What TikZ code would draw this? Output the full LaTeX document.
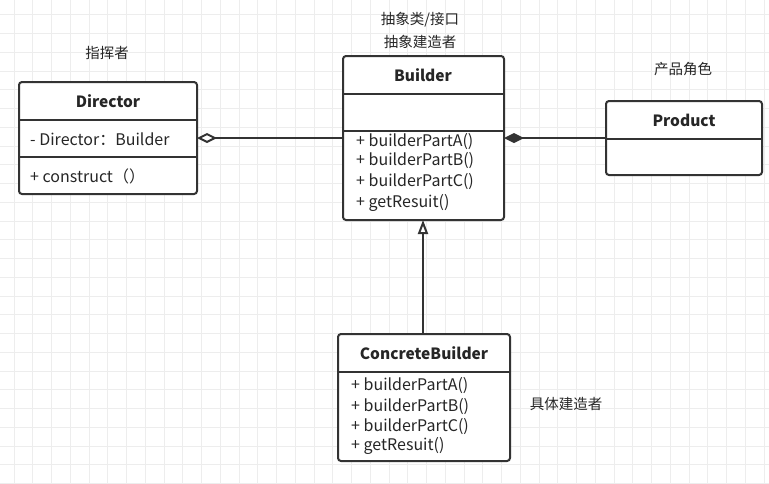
\documentclass[tikz,border=0pt]{standalone}
\usepackage{fontspec}
\setmainfont{Noto Sans CJK SC}
\usetikzlibrary{arrows.meta}
\begin{document}
\begin{tikzpicture}[x=1pt,y=-1pt,
  box/.style={draw=black!80,line width=2pt,rounded corners=3pt},
  sep/.style={draw=black!80,line width=1.5pt},
  ttl/.style={font=\fontsize{15.5}{18}\selectfont\bfseries,text=black!85},
  txt/.style={font=\fontsize{16}{18}\selectfont,text=black!85,anchor=west,inner sep=0pt},
  lbl/.style={font=\fontsize{14.5}{17}\selectfont,text=black!85},
  con/.style={draw=black!80,line width=2pt}]
\fill[white] (0,0) rectangle (769,483);
\useasboundingbox (0,0) rectangle (769,483);
\foreach \i in {0,...,41}{\draw[black!7,line width=0.6pt] (14+18.75*\i,0) -- (14+18.75*\i,483);}
\foreach \i in {0,...,26}{\draw[black!7,line width=0.6pt] (0,-4+18.75*\i) -- (769,-4+18.75*\i);}
% Director
\draw[box,fill=white] (19,82) rectangle (197,194);
\draw[sep] (19,120) -- (197,120); \draw[sep] (19,157) -- (197,157);
\node[ttl] at (108,101) {Director};
\node[txt] at (30,139) {- Director：Builder};
\node[txt] at (30,176) {+ construct（）};
\coordinate (dR) at (197,138);
% Builder
\draw[box,fill=white] (343,56) rectangle (504,220);
\draw[sep] (343,94) -- (504,94); \draw[sep] (343,131) -- (504,131);
\node[ttl] at (423,75) {Builder};
\node[txt] at (356,142) {+ builderPartA()};
\node[txt] at (356,161) {+ builderPartB()};
\node[txt] at (356,182) {+ builderPartC()};
\node[txt] at (356,203) {+ getResuit()};
\coordinate (bL) at (343,138); \coordinate (bR) at (504,138); \coordinate (bB) at (423,220);
% Product
\draw[box,fill=white] (606,101) rectangle (762,175);
\draw[sep] (606,139) -- (762,139);
\node[ttl] at (684,120) {Product};
\coordinate (pL) at (606,138);
% ConcreteBuilder
\draw[box,fill=white] (338,334) rectangle (510,461);
\draw[sep] (338,372) -- (510,372);
\node[ttl] at (424,353) {ConcreteBuilder};
\node[txt] at (351,386) {+ builderPartA()};
\node[txt] at (351,407) {+ builderPartB()};
\node[txt] at (351,427) {+ builderPartC()};
\node[txt] at (351,446) {+ getResuit()};
\coordinate (cT) at (423,334);
% connectors
\draw[con,{Diamond[open,length=20pt,width=10pt,fill=white]}-] (dR) -- (bL);
\draw[con,{Diamond[length=20pt,width=10pt]}-] (bR) -- (pL);
\draw[con,-{Triangle[open,length=14pt,width=10pt,fill=white]}] (cT) -- (bB);
% labels
\node[lbl] at (107,53) {指挥者};
\node[lbl] at (420,20) {抽象类/接口};
\node[lbl] at (420,42) {抽象建造者};
\node[lbl] at (683,69) {产品角色};
\node[lbl] at (566,404) {具体建造者};
\end{tikzpicture}
\end{document}
